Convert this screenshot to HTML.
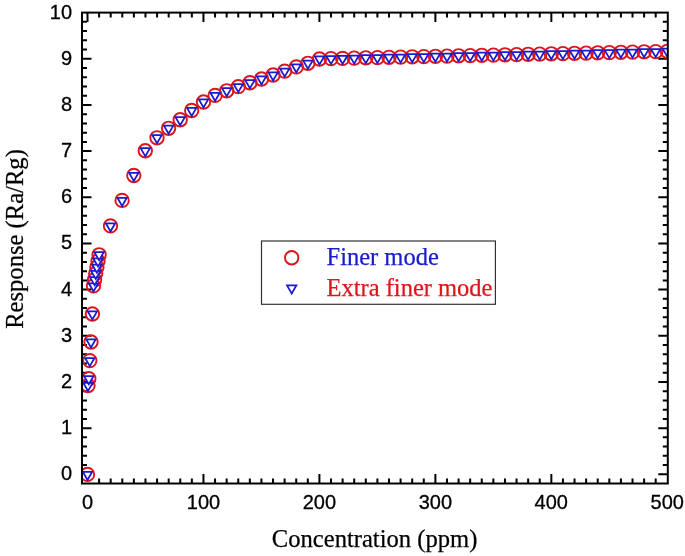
<!DOCTYPE html>
<html lang="en">
<head>
<meta charset="utf-8">
<title>Response vs Concentration</title>
<style>
html,body{margin:0;padding:0;background:#fff;}
body{width:685px;height:556px;overflow:hidden;}
svg{display:block;}
.tick{font-family:"Liberation Sans",sans-serif;font-size:20px;fill:#000;stroke:#000;stroke-width:0.3px;}
.ttl{font-family:"Liberation Serif",serif;font-size:24.6px;fill:#000;stroke:#000;stroke-width:0.25px;}
.leg{font-family:"Liberation Serif",serif;font-size:24.5px;stroke-width:0.25px;}
</style>
</head>
<body>
<svg width="685" height="556" viewBox="0 0 685 556">
<rect x="0" y="0" width="685" height="556" fill="#fff"/>
<defs>
<clipPath id="plot"><rect x="82.0" y="12.6" width="585.8" height="470.9"/></clipPath>
</defs>

<g stroke="#000" stroke-width="2" fill="none" stroke-linecap="butt">
<path d="M87.50 12.6v9.5M99.10 483.5v-5.0M99.10 12.6v5.0M110.69 483.5v-5.0M110.69 12.6v5.0M122.29 483.5v-5.0M122.29 12.6v5.0M133.88 483.5v-5.0M133.88 12.6v5.0M145.48 483.5v-5.0M145.48 12.6v5.0M157.08 483.5v-5.0M157.08 12.6v5.0M168.67 483.5v-5.0M168.67 12.6v5.0M180.27 483.5v-5.0M180.27 12.6v5.0M191.86 483.5v-5.0M191.86 12.6v5.0M203.46 483.5v-9.5M203.46 12.6v9.5M215.06 483.5v-5.0M215.06 12.6v5.0M226.65 483.5v-5.0M226.65 12.6v5.0M238.25 483.5v-5.0M238.25 12.6v5.0M249.84 483.5v-5.0M249.84 12.6v5.0M261.44 483.5v-5.0M261.44 12.6v5.0M273.04 483.5v-5.0M273.04 12.6v5.0M284.63 483.5v-5.0M284.63 12.6v5.0M296.23 483.5v-5.0M296.23 12.6v5.0M307.82 483.5v-5.0M307.82 12.6v5.0M319.42 483.5v-9.5M319.42 12.6v9.5M331.02 483.5v-5.0M331.02 12.6v5.0M342.61 483.5v-5.0M342.61 12.6v5.0M354.21 483.5v-5.0M354.21 12.6v5.0M365.80 483.5v-5.0M365.80 12.6v5.0M377.40 483.5v-5.0M377.40 12.6v5.0M389.00 483.5v-5.0M389.00 12.6v5.0M400.59 483.5v-5.0M400.59 12.6v5.0M412.19 483.5v-5.0M412.19 12.6v5.0M423.78 483.5v-5.0M423.78 12.6v5.0M435.38 483.5v-9.5M435.38 12.6v9.5M446.98 483.5v-5.0M446.98 12.6v5.0M458.57 483.5v-5.0M458.57 12.6v5.0M470.17 483.5v-5.0M470.17 12.6v5.0M481.76 483.5v-5.0M481.76 12.6v5.0M493.36 483.5v-5.0M493.36 12.6v5.0M504.96 483.5v-5.0M504.96 12.6v5.0M516.55 483.5v-5.0M516.55 12.6v5.0M528.15 483.5v-5.0M528.15 12.6v5.0M539.74 483.5v-5.0M539.74 12.6v5.0M551.34 483.5v-9.5M551.34 12.6v9.5M562.94 483.5v-5.0M562.94 12.6v5.0M574.53 483.5v-5.0M574.53 12.6v5.0M586.13 483.5v-5.0M586.13 12.6v5.0M597.72 483.5v-5.0M597.72 12.6v5.0M609.32 483.5v-5.0M609.32 12.6v5.0M620.92 483.5v-5.0M620.92 12.6v5.0M632.51 483.5v-5.0M632.51 12.6v5.0M644.11 483.5v-5.0M644.11 12.6v5.0M655.70 483.5v-5.0M655.70 12.6v5.0M667.8 474.30h-9.5M82.0 465.07h5.0M667.8 465.07h-5.0M82.0 455.83h5.0M667.8 455.83h-5.0M82.0 446.60h5.0M667.8 446.60h-5.0M82.0 437.36h5.0M667.8 437.36h-5.0M82.0 428.13h9.5M667.8 428.13h-9.5M82.0 418.90h5.0M667.8 418.90h-5.0M82.0 409.66h5.0M667.8 409.66h-5.0M82.0 400.43h5.0M667.8 400.43h-5.0M82.0 391.19h5.0M667.8 391.19h-5.0M82.0 381.96h9.5M667.8 381.96h-9.5M82.0 372.73h5.0M667.8 372.73h-5.0M82.0 363.49h5.0M667.8 363.49h-5.0M82.0 354.26h5.0M667.8 354.26h-5.0M82.0 345.02h5.0M667.8 345.02h-5.0M82.0 335.79h9.5M667.8 335.79h-9.5M82.0 326.56h5.0M667.8 326.56h-5.0M82.0 317.32h5.0M667.8 317.32h-5.0M82.0 308.09h5.0M667.8 308.09h-5.0M82.0 298.85h5.0M667.8 298.85h-5.0M82.0 289.62h9.5M667.8 289.62h-9.5M82.0 280.39h5.0M667.8 280.39h-5.0M82.0 271.15h5.0M667.8 271.15h-5.0M82.0 261.92h5.0M667.8 261.92h-5.0M82.0 252.68h5.0M667.8 252.68h-5.0M82.0 243.45h9.5M667.8 243.45h-9.5M82.0 234.22h5.0M667.8 234.22h-5.0M82.0 224.98h5.0M667.8 224.98h-5.0M82.0 215.75h5.0M667.8 215.75h-5.0M82.0 206.51h5.0M667.8 206.51h-5.0M82.0 197.28h9.5M667.8 197.28h-9.5M82.0 188.05h5.0M667.8 188.05h-5.0M82.0 178.81h5.0M667.8 178.81h-5.0M82.0 169.58h5.0M667.8 169.58h-5.0M82.0 160.34h5.0M667.8 160.34h-5.0M82.0 151.11h9.5M667.8 151.11h-9.5M82.0 141.88h5.0M667.8 141.88h-5.0M82.0 132.64h5.0M667.8 132.64h-5.0M82.0 123.41h5.0M667.8 123.41h-5.0M82.0 114.17h5.0M667.8 114.17h-5.0M82.0 104.94h9.5M667.8 104.94h-9.5M82.0 95.71h5.0M667.8 95.71h-5.0M82.0 86.47h5.0M667.8 86.47h-5.0M82.0 77.24h5.0M667.8 77.24h-5.0M82.0 68.00h5.0M667.8 68.00h-5.0M82.0 58.77h9.5M667.8 58.77h-9.5M82.0 49.54h5.0M667.8 49.54h-5.0M82.0 40.30h5.0M667.8 40.30h-5.0M82.0 31.07h5.0M667.8 31.07h-5.0M82.0 21.83h5.0M667.8 21.83h-5.0"/>
</g>
<g clip-path="url(#plot)">
<g fill="none" stroke="#de161c" stroke-width="1.95">
<circle cx="87.5" cy="474.4" r="6.7"/>
<circle cx="88.0" cy="385.5" r="6.7"/>
<circle cx="88.8" cy="378.7" r="6.7"/>
<circle cx="89.8" cy="360.6" r="6.7"/>
<circle cx="91.0" cy="342.0" r="6.7"/>
<circle cx="92.4" cy="314.0" r="6.7"/>
<circle cx="93.5" cy="285.9" r="6.7"/>
<circle cx="94.6" cy="279.7" r="6.7"/>
<circle cx="95.7" cy="273.5" r="6.7"/>
<circle cx="96.9" cy="267.2" r="6.7"/>
<circle cx="98.0" cy="261.0" r="6.7"/>
<circle cx="99.1" cy="254.8" r="6.7"/>
<circle cx="110.5" cy="225.9" r="6.7"/>
<circle cx="122.1" cy="200.4" r="6.7"/>
<circle cx="133.8" cy="175.5" r="6.7"/>
<circle cx="145.3" cy="150.7" r="6.7"/>
<circle cx="157.0" cy="137.8" r="6.7"/>
<circle cx="168.6" cy="128.3" r="6.7"/>
<circle cx="180.2" cy="119.7" r="6.7"/>
<circle cx="191.7" cy="110.5" r="6.7"/>
<circle cx="203.5" cy="102.0" r="6.7"/>
<circle cx="215.1" cy="95.4" r="6.7"/>
<circle cx="226.7" cy="90.8" r="6.7"/>
<circle cx="238.3" cy="86.6" r="6.7"/>
<circle cx="249.9" cy="82.7" r="6.7"/>
<circle cx="261.5" cy="79.0" r="6.7"/>
<circle cx="273.1" cy="75.0" r="6.7"/>
<circle cx="284.7" cy="71.1" r="6.7"/>
<circle cx="296.3" cy="66.9" r="6.7"/>
<circle cx="307.9" cy="63.3" r="6.7"/>
<circle cx="319.5" cy="59.0" r="6.7"/>
<circle cx="331.0" cy="58.6" r="6.7"/>
<circle cx="342.6" cy="58.4" r="6.7"/>
<circle cx="354.2" cy="58.1" r="6.7"/>
<circle cx="365.8" cy="57.8" r="6.7"/>
<circle cx="377.4" cy="57.6" r="6.7"/>
<circle cx="389.0" cy="57.3" r="6.7"/>
<circle cx="400.6" cy="57.1" r="6.7"/>
<circle cx="412.2" cy="56.8" r="6.7"/>
<circle cx="423.8" cy="56.6" r="6.7"/>
<circle cx="435.4" cy="56.3" r="6.7"/>
<circle cx="447.0" cy="56.1" r="6.7"/>
<circle cx="458.6" cy="55.8" r="6.7"/>
<circle cx="470.2" cy="55.6" r="6.7"/>
<circle cx="481.8" cy="55.3" r="6.7"/>
<circle cx="493.4" cy="55.1" r="6.7"/>
<circle cx="505.0" cy="54.8" r="6.7"/>
<circle cx="516.6" cy="54.6" r="6.7"/>
<circle cx="528.1" cy="54.3" r="6.7"/>
<circle cx="539.7" cy="54.1" r="6.7"/>
<circle cx="551.3" cy="53.8" r="6.7"/>
<circle cx="562.9" cy="53.6" r="6.7"/>
<circle cx="574.5" cy="53.3" r="6.7"/>
<circle cx="586.1" cy="53.1" r="6.7"/>
<circle cx="597.7" cy="52.8" r="6.7"/>
<circle cx="609.3" cy="52.6" r="6.7"/>
<circle cx="620.9" cy="52.3" r="6.7"/>
<circle cx="632.5" cy="52.1" r="6.7"/>
<circle cx="644.1" cy="51.8" r="6.7"/>
<circle cx="655.7" cy="51.6" r="6.7"/>
<circle cx="667.3" cy="51.3" r="6.7"/>
</g>
<g fill="#fff" stroke="#1a1ad0" stroke-width="1.75" stroke-linejoin="miter">
<path d="M82.80 471.80h9.4l-4.7 8.1z"/>
<path d="M83.30 382.90h9.4l-4.7 8.1z"/>
<path d="M84.10 376.10h9.4l-4.7 8.1z"/>
<path d="M85.10 358.00h9.4l-4.7 8.1z"/>
<path d="M86.30 339.40h9.4l-4.7 8.1z"/>
<path d="M87.70 311.40h9.4l-4.7 8.1z"/>
<path d="M88.80 283.30h9.4l-4.7 8.1z"/>
<path d="M89.92 277.08h9.4l-4.7 8.1z"/>
<path d="M91.04 270.86h9.4l-4.7 8.1z"/>
<path d="M92.16 264.64h9.4l-4.7 8.1z"/>
<path d="M93.28 258.42h9.4l-4.7 8.1z"/>
<path d="M94.40 252.20h9.4l-4.7 8.1z"/>
<path d="M105.80 223.30h9.4l-4.7 8.1z"/>
<path d="M117.40 197.80h9.4l-4.7 8.1z"/>
<path d="M129.10 172.90h9.4l-4.7 8.1z"/>
<path d="M140.60 148.10h9.4l-4.7 8.1z"/>
<path d="M152.30 135.20h9.4l-4.7 8.1z"/>
<path d="M163.90 125.70h9.4l-4.7 8.1z"/>
<path d="M175.50 117.10h9.4l-4.7 8.1z"/>
<path d="M187.00 107.90h9.4l-4.7 8.1z"/>
<path d="M198.80 99.40h9.4l-4.7 8.1z"/>
<path d="M210.40 92.80h9.4l-4.7 8.1z"/>
<path d="M222.00 88.20h9.4l-4.7 8.1z"/>
<path d="M233.60 84.00h9.4l-4.7 8.1z"/>
<path d="M245.20 80.10h9.4l-4.7 8.1z"/>
<path d="M256.80 76.40h9.4l-4.7 8.1z"/>
<path d="M268.40 72.40h9.4l-4.7 8.1z"/>
<path d="M280.00 68.50h9.4l-4.7 8.1z"/>
<path d="M291.60 64.30h9.4l-4.7 8.1z"/>
<path d="M303.20 60.70h9.4l-4.7 8.1z"/>
<path d="M314.80 56.40h9.4l-4.7 8.1z"/>
<path d="M326.30 56.00h9.4l-4.7 8.1z"/>
<path d="M337.90 55.80h9.4l-4.7 8.1z"/>
<path d="M349.50 55.50h9.4l-4.7 8.1z"/>
<path d="M361.10 55.20h9.4l-4.7 8.1z"/>
<path d="M372.70 55.00h9.4l-4.7 8.1z"/>
<path d="M384.30 54.70h9.4l-4.7 8.1z"/>
<path d="M395.90 54.50h9.4l-4.7 8.1z"/>
<path d="M407.50 54.20h9.4l-4.7 8.1z"/>
<path d="M419.10 54.00h9.4l-4.7 8.1z"/>
<path d="M430.70 53.70h9.4l-4.7 8.1z"/>
<path d="M442.30 53.50h9.4l-4.7 8.1z"/>
<path d="M453.90 53.20h9.4l-4.7 8.1z"/>
<path d="M465.50 53.00h9.4l-4.7 8.1z"/>
<path d="M477.10 52.70h9.4l-4.7 8.1z"/>
<path d="M488.70 52.50h9.4l-4.7 8.1z"/>
<path d="M500.30 52.20h9.4l-4.7 8.1z"/>
<path d="M511.90 52.00h9.4l-4.7 8.1z"/>
<path d="M523.40 51.70h9.4l-4.7 8.1z"/>
<path d="M535.00 51.50h9.4l-4.7 8.1z"/>
<path d="M546.60 51.20h9.4l-4.7 8.1z"/>
<path d="M558.20 51.00h9.4l-4.7 8.1z"/>
<path d="M569.80 50.70h9.4l-4.7 8.1z"/>
<path d="M581.40 50.50h9.4l-4.7 8.1z"/>
<path d="M593.00 50.20h9.4l-4.7 8.1z"/>
<path d="M604.60 50.00h9.4l-4.7 8.1z"/>
<path d="M616.20 49.70h9.4l-4.7 8.1z"/>
<path d="M627.80 49.50h9.4l-4.7 8.1z"/>
<path d="M639.40 49.20h9.4l-4.7 8.1z"/>
<path d="M651.00 49.00h9.4l-4.7 8.1z"/>
<path d="M662.60 48.70h9.4l-4.7 8.1z"/>
</g>
</g>
<rect x="82.0" y="12.6" width="585.8" height="470.9" fill="none" stroke="#000" stroke-width="2"/>
<g class="tick" text-anchor="middle">
<text transform="translate(87.5,509.4) scale(1,1.04)">0</text>
<text transform="translate(203.5,509.4) scale(1,1.04)">100</text>
<text transform="translate(319.4,509.4) scale(1,1.04)">200</text>
<text transform="translate(435.4,509.4) scale(1,1.04)">300</text>
<text transform="translate(551.3,509.4) scale(1,1.04)">400</text>
<text transform="translate(667.3,509.4) scale(1,1.04)">500</text>
</g>
<g class="tick" text-anchor="end">
<text transform="translate(72,480.3) scale(1,1.04)">0</text>
<text transform="translate(72,434.1) scale(1,1.04)">1</text>
<text transform="translate(72,388.0) scale(1,1.04)">2</text>
<text transform="translate(72,341.8) scale(1,1.04)">3</text>
<text transform="translate(72,295.6) scale(1,1.04)">4</text>
<text transform="translate(72,249.4) scale(1,1.04)">5</text>
<text transform="translate(72,203.3) scale(1,1.04)">6</text>
<text transform="translate(72,157.1) scale(1,1.04)">7</text>
<text transform="translate(72,110.9) scale(1,1.04)">8</text>
<text transform="translate(72,64.8) scale(1,1.04)">9</text>
<text transform="translate(72,18.6) scale(1,1.04)">10</text>
</g>
<text class="ttl" x="374.6" y="547" text-anchor="middle">Concentration (ppm)</text>
<text class="ttl" transform="translate(22.8,239) rotate(-90)" text-anchor="middle">Response (Ra/Rg)</text>
<rect x="261.5" y="241.0" width="233.9" height="63.3" fill="#fff" stroke="#333" stroke-width="1.2"/>
<circle cx="291.7" cy="257.7" r="6.7" fill="none" stroke="#de161c" stroke-width="1.95"/>
<path d="M287.0 285.4h9.4l-4.7 8.1z" fill="#fff" stroke="#1a1ad0" stroke-width="1.75"/>
<text class="leg" x="326.5" y="265.3" fill="#1a1ad0" stroke="#1a1ad0">Finer mode</text>
<text class="leg" x="326.5" y="296.3" fill="#de161c" stroke="#de161c">Extra finer mode</text>
</svg>
</body>
</html>
